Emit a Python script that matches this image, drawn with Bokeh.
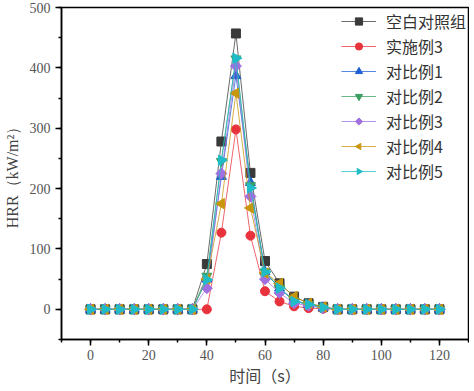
import math
from bokeh.plotting import figure
from bokeh.models import SingleIntervalTicker, Range1d, Legend, LegendItem, ColumnDataSource
from bokeh.embed import file_html
from bokeh.resources import INLINE

time_s = [0, 5, 10, 15, 20, 25, 30, 35, 40, 45, 50, 55, 60, 65, 70, 75, 80,
          85, 90, 95, 100, 105, 110, 115, 120]
tail = [0, 0, 0, 0, 0, 0, 0, 0]
blank = [0, 0, 0, 0, 0, 0, 0, 0, 75, 278, 457, 226, 80, 43, 21, 10, 4] + tail
ex3 = [0, 0, 0, 0, 0, 0, 0, 0, 0, 127, 298, 122, 30, 13, 5, 2, 1] + tail
cmp1 = [0, 0, 0, 0, 0, 0, 0, 0, 50, 220, 387, 210, 62, 35, 15, 8, 3] + tail
cmp2 = [0, 0, 0, 0, 0, 0, 0, 0, 55, 245, 415, 205, 62, 35, 14, 8, 3] + tail
cmp3 = [0, 0, 0, 0, 0, 0, 0, 0, 35, 225, 403, 187, 50, 27, 10, 6, 2] + tail
cmp4 = [0, 0, 0, 0, 0, 0, 0, 0, 50, 175, 358, 168, 60, 43, 21, 10, 4] + tail
cmp5 = [0, 0, 0, 0, 0, 0, 0, 0, 49, 247, 416, 201, 62, 35, 13, 8, 3] + tail

names = ["空白对照组", "实施例3", "对比例1", "对比例2", "对比例3", "对比例4", "对比例5"]
series = [blank, ex3, cmp1, cmp2, cmp3, cmp4, cmp5]
colors = ["#3a3a3a", "#e8323c", "#1f5fd4", "#3a9e5f", "#a070e0", "#c8960a", "#1fbcc8"]
markers = ["square", "circle", "triangle", "inverted_triangle", "ngon4", "ngon3", "ngon3"]
angles = [0, 0, 0, 0, 0, 90, -90]
sizes = [9, 9, 10, 10, 11, 10, 10]

p = figure(frame_width=407, frame_height=332, output_backend="svg", toolbar_location=None,
           x_range=Range1d(-10, 130), y_range=Range1d(-50, 500),
           min_border_left=50, min_border_right=1, min_border_top=7, min_border_bottom=10)
p.grid.visible = False
p.outline_line_color = "black"
p.outline_line_width = 1.5
p.background_fill_color = "white"

items = []
for name, ys, c, m, a, s in zip(names, series, colors, markers, angles, sizes):
    src = ColumnDataSource(dict(x=time_s, y=ys))
    r1 = p.line("x", "y", source=src, line_color=c, line_width=1, line_alpha=0.75)
    if m.startswith("ngon") and hasattr(p, "ngon"):
        nsides = int(m[4:])
        rad = 6 if nsides == 3 else 5.5
        r2 = p.ngon("x", "y", source=src, radius=rad, radius_units="screen", n=nsides,
                    angle=a, angle_units="deg", fill_color=c, line_color=c)
    else:
        mk = m if not m.startswith("ngon") else ("diamond" if m == "ngon4" else "triangle")
        r2 = p.scatter("x", "y", source=src, marker=mk, size=s, fill_color=c, line_color=c)
    items.append(LegendItem(label=name, renderers=[r1, r2]))

legend = Legend(items=items, location="top_right", border_line_color=None,
                background_fill_alpha=0, label_text_font="Noto Sans CJK SC",
                label_text_font_size="16px", label_text_color="#333333",
                glyph_width=35, glyph_height=18, label_height=18, spacing=1,
                label_standoff=10, margin=2, padding=3)
p.add_layout(legend)

p.xaxis.ticker = SingleIntervalTicker(interval=20, num_minor_ticks=2)
p.yaxis.ticker = SingleIntervalTicker(interval=100, num_minor_ticks=2)
for ax in (p.xaxis, p.yaxis):
    ax.axis_line_width = 1.5
    ax.major_tick_line_width = 1.5
    ax.minor_tick_line_width = 1.5
    ax.major_tick_out = 6
    ax.major_tick_in = 0
    ax.minor_tick_out = 3
    ax.minor_tick_in = 0
    ax.major_label_text_font = "Liberation Serif"
    ax.major_label_text_font_size = "14px"
    ax.major_label_text_color = "#555555"
    ax.axis_label_text_color = "#444444"
    ax.axis_label_text_font_style = "normal"

p.xaxis.major_label_standoff = 4
p.xaxis.axis_label = "时间（s）"
p.xaxis.axis_label_text_font = "Noto Sans CJK SC"
p.xaxis.axis_label_text_font_size = "16px"
p.xaxis.axis_label_standoff = 0
p.yaxis.axis_label = "HRR（kW/m²）"
p.yaxis.axis_label_text_font = "Liberation Serif"
p.yaxis.axis_label_text_font_size = "16px"
p.yaxis.axis_label_standoff = 6

open("out.html", "w").write(file_html(p, INLINE))
